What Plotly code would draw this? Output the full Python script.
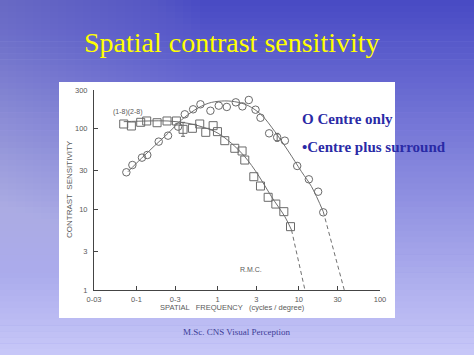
import plotly.graph_objects as go
import math

# ---- data ----
circle_freq = [0.0751, 0.0891, 0.117, 0.136, 0.188, 0.245, 0.326, 0.394, 0.499, 0.614,
               0.815, 1.033, 1.297, 1.674, 2.02, 2.42, 2.93, 3.37, 4.31, 5.41,
               6.73, 9.55, 13.3, 17.3, 20.0]
circle_sens = [28.7, 35.3, 43.6, 47.0, 68.8, 81.6, 105.5, 150, 173, 199.5,
               166, 192, 185, 211, 188, 225.7, 171, 136, 87.2, 77.8,
               70.7, 34.4, 23.5, 16.5, 9.16]

square_freq = [0.0697, 0.0866, 0.1128, 0.1337, 0.1795, 0.238, 0.3105, 0.375, 0.489, 0.602,
               0.714, 0.880, 0.995, 1.225, 1.627, 2.00, 2.16, 2.79, 3.37, 4.19,
               5.21, 6.54, 7.9]
square_sens = [113.8, 107.5, 119.4, 124, 118, 124, 124, 97.7, 100.6, 113.8,
               89.7, 108.5, 91.5, 70.7, 56.9, 52.7, 40.7, 25.3, 19.4, 14.06,
               11.6, 9.34, 6.09]

circle_fit_freq = [0.0787, 0.115, 0.168, 0.245, 0.358, 0.523, 0.763, 1.114, 1.627, 2.376,
                   3.47, 5.07, 7.40, 10.8, 14.35, 20.0]
circle_fit_sens = [29.2, 42.7, 61.4, 87.2, 127.6, 169.7, 205, 219, 215, 192,
                   147, 91.5, 52.7, 29.2, 19.05, 9.34]
circle_ext_freq = [20.0, 36.3]
circle_ext_sens = [9.34, 1.0]

square_fit_freq = [0.0697, 0.139, 0.245, 0.4325, 0.694, 1.014, 1.48, 2.16, 3.16, 4.61,
                   6.73, 8.13]
square_fit_sens = [121.6, 124, 124, 116, 102.5, 87.2, 65.6, 44.8, 26.6, 14.3,
                   8.1, 5.54]
square_ext_freq = [8.13, 11.9]
square_ext_sens = [5.54, 1.0]

err_freq = [0.375, 5.41]
err_sens = [97.7, 77.8]
err_plus = [21.5, 9.3]
err_minus = [17.6, 8.3]

x_tick_vals = [0.03, 0.1, 0.3, 1, 3, 10, 30, 100]
x_tick_text = ["0-03", "0-1", "0-3", "1", "3", "10", "30", "100"]
y_tick_vals = [1, 3, 10, 30, 100, 300]
y_tick_text = ["1", "3", "10", "30", "100", "300"]

title_text = "Spatial contrast sensitivity"
legend_lines = ["O Centre only", "•Centre plus surround"]
footer_text = "M.Sc. CNS Visual Perception"

# ---- figure ----
W, H = 474, 355
L, R, T, B = 94, 94, 90, 65
pw, ph = W - L - R, H - T - B

def px_to_paper_x(px):
    return (px - L) / pw

def py_to_paper_y(py):
    return (H - B - py) / ph

ink = "#5a5a5a"
fig = go.Figure()

fig.add_trace(go.Scatter(x=circle_fit_freq, y=circle_fit_sens, mode="lines",
                         line=dict(color="#707070", width=1, shape="spline"), hoverinfo="skip"))
fig.add_trace(go.Scatter(x=circle_ext_freq, y=circle_ext_sens, mode="lines",
                         line=dict(color="#707070", width=1, dash="4px,3px"), hoverinfo="skip"))
fig.add_trace(go.Scatter(x=square_fit_freq, y=square_fit_sens, mode="lines",
                         line=dict(color="#707070", width=1, shape="spline"), hoverinfo="skip"))
fig.add_trace(go.Scatter(x=square_ext_freq, y=square_ext_sens, mode="lines",
                         line=dict(color="#707070", width=1, dash="4px,3px"), hoverinfo="skip"))
fig.add_trace(go.Scatter(x=circle_freq, y=circle_sens, mode="markers",
                         marker=dict(symbol="circle-open", size=7.5, color="#6a6a6a",
                                     line=dict(width=1, color="#6a6a6a"))))
fig.add_trace(go.Scatter(x=square_freq, y=square_sens, mode="markers",
                         marker=dict(symbol="square-open", size=8, color="#6a6a6a",
                                     line=dict(width=1, color="#6a6a6a"))))
fig.add_trace(go.Scatter(x=err_freq, y=err_sens, mode="markers",
                         marker=dict(size=1, color="rgba(0,0,0,0)"),
                         error_y=dict(type="data", array=err_plus, arrayminus=err_minus,
                                      color="#6a6a6a", thickness=1, width=2)))

# background gradient bands
shapes = []
n = 60
y0p = py_to_paper_y(H)
y1p = py_to_paper_y(0)
top = (72, 74, 196)
bot = (200, 200, 248)
for i in range(n):
    t = (i + 0.5) / n
    c = tuple(int(round(top[k] + (bot[k] - top[k]) * t)) for k in range(3))
    ya = y1p - (y1p - y0p) * i / n
    yb = y1p - (y1p - y0p) * (i + 1) / n - 0.002
    shapes.append(dict(type="rect", xref="paper", yref="paper",
                       x0=px_to_paper_x(0), x1=px_to_paper_x(W), y0=yb, y1=ya,
                       fillcolor="rgb(%d,%d,%d)" % c, line=dict(width=0), layer="below"))
# lighter left side
m = 24
for j in range(m):
    xa = px_to_paper_x(0)
    xb = px_to_paper_x(200 * (j + 1) / m)
    shapes.append(dict(type="rect", xref="paper", yref="paper",
                       x0=xa, x1=xb, y0=y0p, y1=y1p,
                       fillcolor="rgba(255,255,255,0.012)", line=dict(width=0), layer="below"))
# white scanned-figure panel
shapes.append(dict(type="rect", xref="paper", yref="paper",
                   x0=px_to_paper_x(59), x1=px_to_paper_x(395),
                   y0=py_to_paper_y(318), y1=py_to_paper_y(82),
                   fillcolor="white", line=dict(width=0), layer="below"))

annotations = [
    dict(text=title_text, x=px_to_paper_x(232), y=py_to_paper_y(43), xref="paper", yref="paper",
         showarrow=False, font=dict(family="Liberation Serif", size=28, color="#ffff00"),
         xanchor="center", yanchor="middle"),
    dict(text="<b>%s</b>" % legend_lines[0], x=px_to_paper_x(300), y=py_to_paper_y(119),
         xref="paper", yref="paper", showarrow=False,
         font=dict(family="Liberation Serif", size=15, color="#2a2aa6"),
         xanchor="left", yanchor="middle"),
    dict(text="<b>%s</b>" % legend_lines[1], x=px_to_paper_x(300), y=py_to_paper_y(147),
         xref="paper", yref="paper", showarrow=False,
         font=dict(family="Liberation Serif", size=15, color="#2a2aa6"),
         xanchor="left", yanchor="middle"),
    dict(text=footer_text, x=px_to_paper_x(237), y=py_to_paper_y(332), xref="paper", yref="paper",
         showarrow=False, font=dict(family="Liberation Serif", size=9, color="#3c3c96"),
         xanchor="center", yanchor="middle"),
    dict(text="CONTRAST  SENSITIVITY", x=px_to_paper_x(69), y=py_to_paper_y(189),
         xref="paper", yref="paper", showarrow=False, textangle=-90,
         font=dict(family="Liberation Sans", size=8, color=ink),
         xanchor="center", yanchor="middle"),
    dict(text="SPATIAL   FREQUENCY   (cycles / degree)", x=px_to_paper_x(232), y=py_to_paper_y(307),
         xref="paper", yref="paper", showarrow=False,
         font=dict(family="Liberation Sans", size=7.5, color=ink),
         xanchor="center", yanchor="middle"),
    dict(text="(1-8)(2-8)", x=px_to_paper_x(128), y=py_to_paper_y(112),
         xref="paper", yref="paper", showarrow=False,
         font=dict(family="Liberation Sans", size=7, color=ink),
         xanchor="center", yanchor="middle"),
    dict(text="R.M.C.", x=px_to_paper_x(251), y=py_to_paper_y(269),
         xref="paper", yref="paper", showarrow=False,
         font=dict(family="Liberation Sans", size=7, color=ink),
         xanchor="center", yanchor="middle"),
]

fig.update_layout(
    width=W, height=H, autosize=False,
    margin=dict(l=L, r=R, t=T, b=B, pad=0),
    paper_bgcolor="rgb(140,140,228)",
    plot_bgcolor="rgba(0,0,0,0)",
    showlegend=False,
    hovermode=False,
    shapes=shapes,
    annotations=annotations,
    xaxis=dict(type="log", range=[math.log10(0.03), math.log10(100)],
               tickvals=x_tick_vals, ticktext=x_tick_text,
               ticks="inside", ticklen=4, tickcolor="#444", tickwidth=1,
               showline=True, linecolor="#444", linewidth=1, mirror=False,
               showgrid=False, zeroline=False, ticklabelstandoff=2,
               tickfont=dict(family="Liberation Sans", size=7.5, color=ink)),
    yaxis=dict(type="log", range=[0, math.log10(300)],
               tickvals=y_tick_vals, ticktext=y_tick_text,
               ticks="inside", ticklen=4, tickcolor="#444", tickwidth=1,
               showline=True, linecolor="#444", linewidth=1, mirror=False,
               showgrid=False, zeroline=False, ticklabelstandoff=4,
               tickfont=dict(family="Liberation Sans", size=7.5, color=ink)),
)

fig.write_html("out.html", config={"displayModeBar": False},
               post_script="document.body.style.margin='0';document.body.style.overflow='hidden';")
